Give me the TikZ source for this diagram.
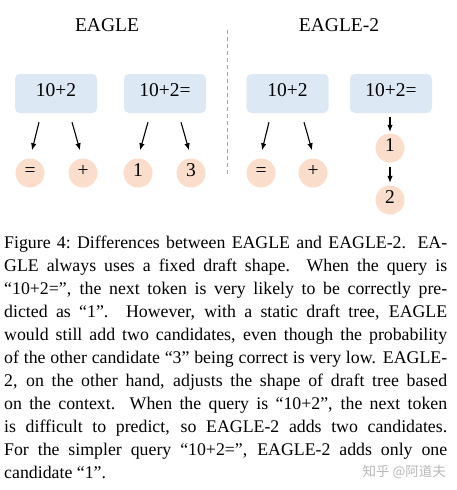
\documentclass[tikz,border=0pt]{standalone}
\usepackage{fontspec}
\setmainfont{Liberation Serif}
\newfontfamily\cjkwm{Noto Sans CJK SC}
\usetikzlibrary{arrows.meta}
\definecolor{boxblue}{HTML}{DDE8F5}
\definecolor{peach}{HTML}{FADDCA}
\definecolor{dashc}{HTML}{8FA6C4}
\begin{document}
\begin{tikzpicture}[x=1pt,y=1pt,
  querybox/.style={fill=boxblue,rounded corners=5pt,minimum width=82pt,minimum height=39pt,inner sep=0pt,font=\fontsize{19.5}{22}\selectfont,text height=0.68em,text depth=0pt},
  tok/.style={circle,fill=peach,minimum size=29pt,inner sep=0pt,font=\fontsize{19.5}{22}\selectfont,text height=0.66em,text depth=0pt},
  ttl/.style={anchor=base,inner sep=0pt,font=\fontsize{19.5}{22}\selectfont},
  arr/.style={-{Latex[length=7pt,width=5.5pt]},line width=1.1pt,black}]
\useasboundingbox (0,0) rectangle (456,-490);
\fill[white] (0,0) rectangle (456,-490);
% titles
\node[ttl] (t1) at (107,-31) {EAGLE};
\node[ttl] (t2) at (339,-31) {EAGLE-2};
% separator
\coordinate (s1) at (227,-30);
\coordinate (s2) at (227,-175);
\draw[dashc,line width=0.8pt,dash pattern=on 4pt off 3pt] (s1) -- (s2);
% query boxes
\node[querybox] (b1) at (56,-93.5) {10+2};
\node[querybox] (b2) at (165,-93.5) {10+2=};
\node[querybox] (b3) at (287.5,-93.5) {10+2};
\node[querybox] (b4) at (391,-93.5) {10+2=};
% tokens
\node[tok] (c1) at (30,-173) {=};
\node[tok] (c2) at (83,-173) {+};
\node[tok] (c3) at (138,-173) {1};
\node[tok] (c4) at (191,-173) {3};
\node[tok] (c5) at (261,-173) {=};
\node[tok] (c6) at (313,-173) {+};
\node[tok] (c7) at (390,-148) {1};
\node[tok] (c8) at (390,-200) {2};
% arrows
\draw[arr] ([xshift=-17pt,yshift=-9pt]b1.south) -- ([xshift=2pt,yshift=8pt]c1.north);
\draw[arr] ([xshift=16pt,yshift=-9pt]b1.south) -- ([xshift=-3pt,yshift=8pt]c2.north);
\draw[arr] ([xshift=-17pt,yshift=-9pt]b2.south) -- ([xshift=2pt,yshift=8pt]c3.north);
\draw[arr] ([xshift=16pt,yshift=-9pt]b2.south) -- ([xshift=-2pt,yshift=8pt]c4.north);
\draw[arr] ([xshift=-18.5pt,yshift=-9pt]b3.south) -- ([xshift=1pt,yshift=8pt]c5.north);
\draw[arr] ([xshift=16.5pt,yshift=-9pt]b3.south) -- ([xshift=-1pt,yshift=8pt]c6.north);
\draw[arr] ([xshift=-1pt,yshift=-4pt]b4.south) -- ([yshift=1.5pt]c7.north);
\draw[arr] ([yshift=-4.5pt]c7.south) -- ([yshift=2.5pt]c8.north);
% caption
\node[anchor=base west,inner sep=0pt] (cap) at (4,-248) {\parbox[t]{443pt}{\fontsize{17.8}{23}\selectfont\sfcode`\:=1000
Figure 4: Differences between EAGLE and EAGLE-2. EA-\linebreak
GLE always uses a fixed draft shape. When the query is\linebreak
``10+2='', the next token is very likely to be correctly pre-\linebreak
dicted as ``1''. However, with a static draft tree, EAGLE\linebreak
would still add two candidates, even though the probability\linebreak
of the other candidate ``3'' being correct is very low. EAGLE-\linebreak
2, on the other hand, adjusts the shape of draft tree based\linebreak
on the context. When the query is ``10+2'', the next token\linebreak
is difficult to predict, so EAGLE-2 adds two candidates.\linebreak
For the simpler query ``10+2='', EAGLE-2 adds only one\linebreak
candidate ``1''.}};
% watermark
\node[anchor=east,inner sep=0pt,text=black!28,font=\cjkwm\fontsize{13.5}{15}\selectfont] (wm) at (446,-472) {知乎 @阿道夫};
\end{tikzpicture}
\end{document}
